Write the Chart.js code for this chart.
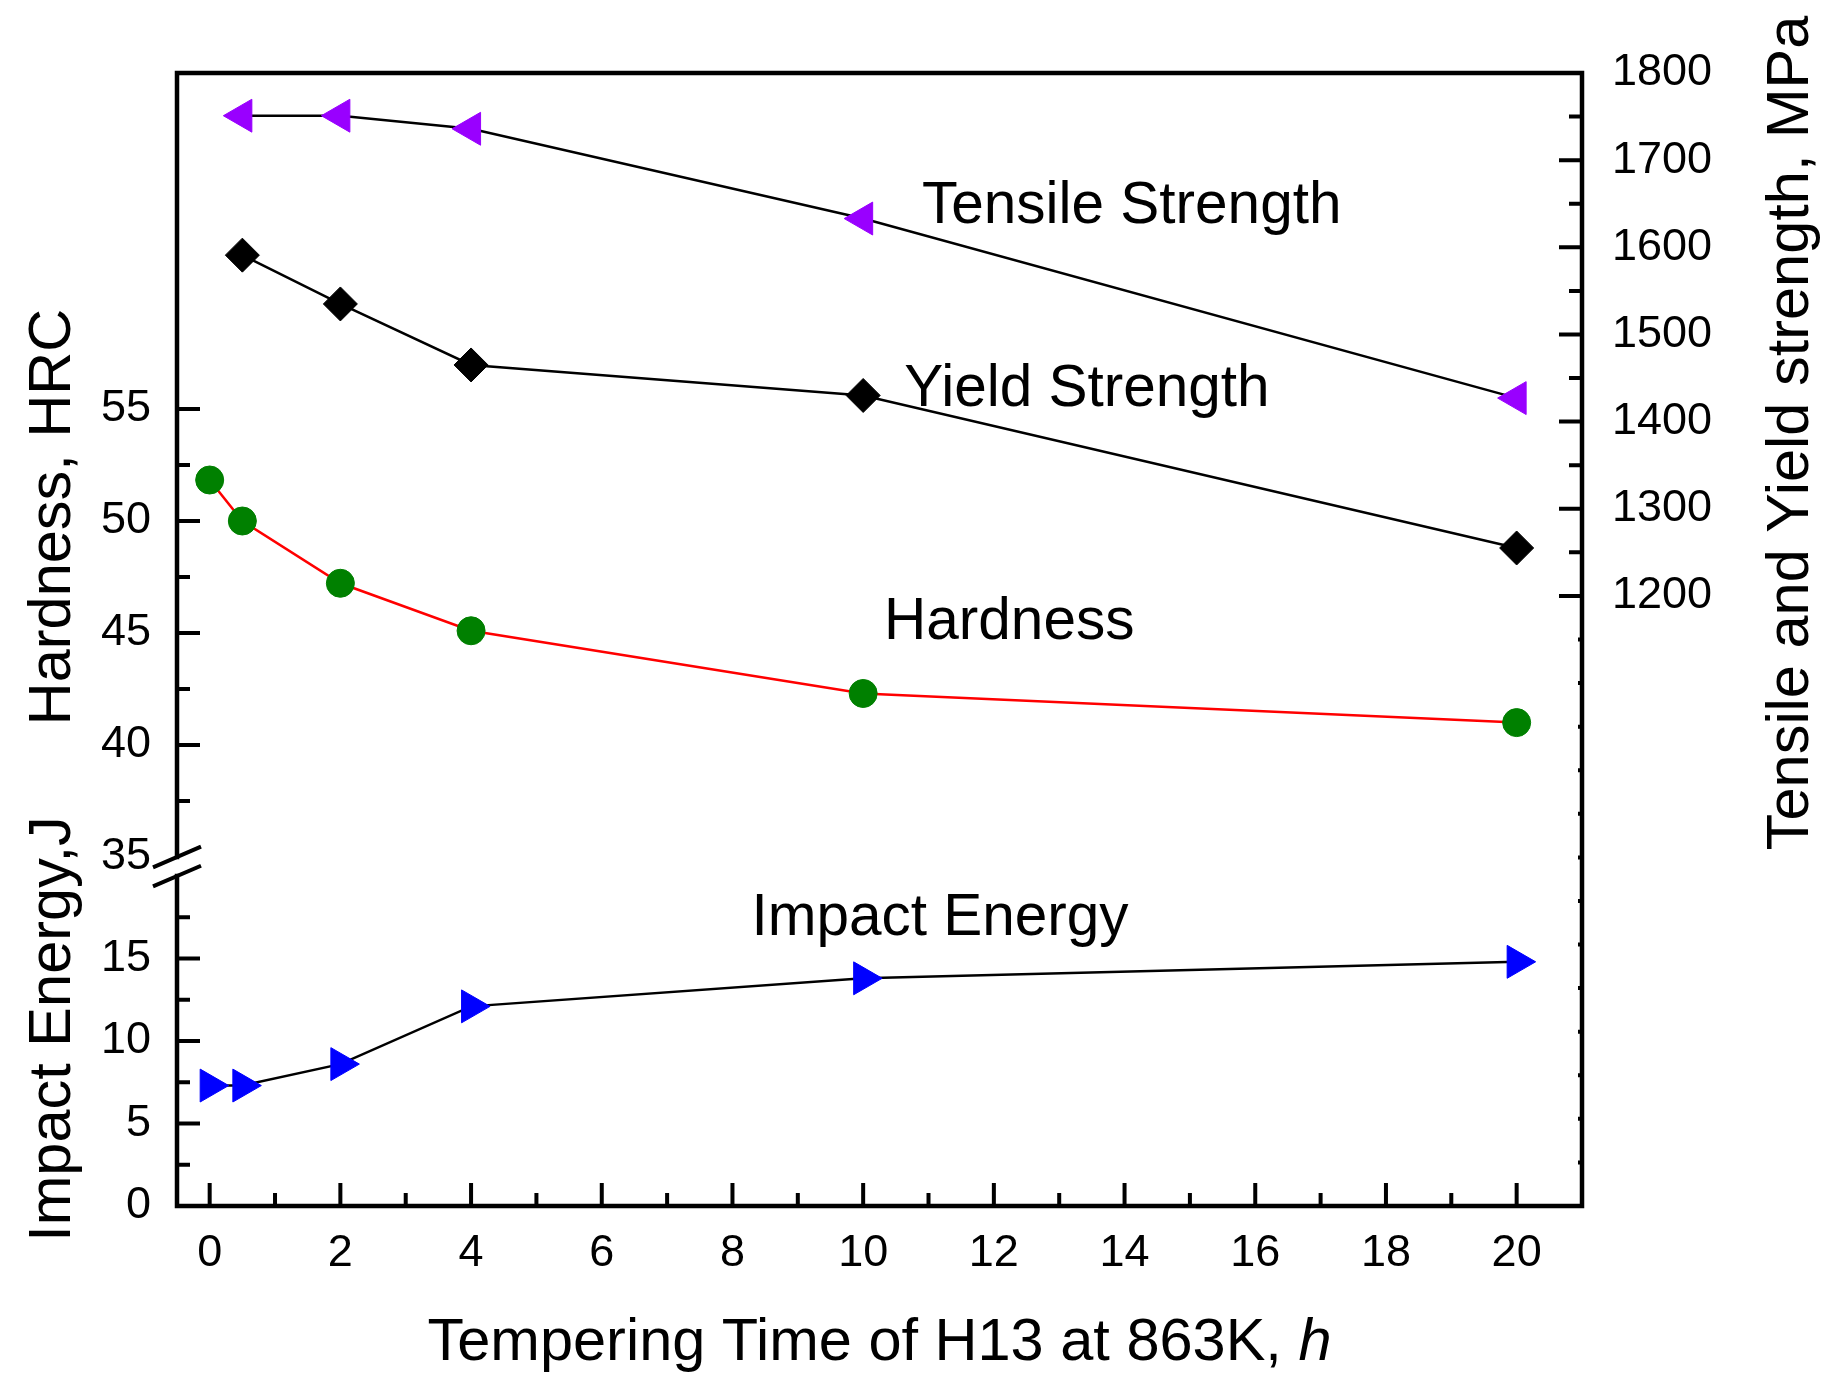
<!DOCTYPE html>
<html>
<head>
<meta charset="utf-8">
<title>Tempering of H13</title>
<script src="https://cdn.jsdelivr.net/npm/chart.js@4.4.1/dist/chart.umd.min.js"></script>
<style>
    html, body { margin: 0; padding: 0; background: #fff; }
    #wrap { width: 1833px; height: 1394px; }
</style>
</head>
<body>
<div id="wrap"><canvas id="graph"></canvas></div>
<script>
// values
const times = [0, 0.5, 2, 4, 10, 20];
const strengthTimes = [0.5, 2, 4, 10, 20];
const tensile = [1751, 1751, 1736, 1633, 1427];
const yieldStrength = [1591, 1535, 1465, 1430, 1255];
const hardness = [51.83, 50.0, 47.22, 45.1, 42.3, 41.0];
const impact = [7.3, 7.3, 8.6, 12.1, 13.8, 14.8];

// tick positions (labels only on the major ones)
const xTicks = [0, 1, 2, 3, 4, 5, 6, 7, 8, 9, 10, 11, 12, 13, 14, 15, 16, 17, 18, 19, 20];
const impactTicks = [0, 2.5, 5, 7.5, 10, 12.5, 15, 17.5];
const hardnessTicks = [35, 37.5, 40, 42.5, 45, 47.5, 50, 52.5, 55];
const mpaTicks = [550, 600, 650, 700, 750, 800, 850, 900, 950, 1000, 1050, 1100, 1150,
    1200, 1250, 1300, 1350, 1400, 1450, 1500, 1550, 1600, 1650, 1700, 1750, 1800];

// in-plot labels, anchored in data units (left edge, baseline)
const curveLabels = [
    {text: "Tensile Strength", x: 10.9, y: 1628, axis: "yMpa"},
    {text: "Yield Strength", x: 10.63, y: 1418, axis: "yMpa"},
    {text: "Hardness", x: 10.32, y: 44.75, axis: "yHard"},
    {text: "Impact Energy", x: 8.29, y: 16.4, axis: "yImp"}
];

const FONT = '"Liberation Sans", Arial, sans-serif';
const BIG = "59.5px " + FONT;
const NOTE = "58.5px " + FONT;
const toPoints = (xs, ys) => xs.map((x, i) => ({x: x, y: ys[i]}));

const frame = {
    id: "frame",
    beforeDraw(chart) {
        const ctx = chart.ctx;
        ctx.save();
        ctx.fillStyle = "#fff";
        ctx.fillRect(0, 0, chart.width, chart.height);
        ctx.restore();
    },
    afterDraw(chart) {
        const ctx = chart.ctx;
        const a = chart.chartArea;
        const s = chart.scales;
        const breakTop = s.yHard.getPixelForValue(35);
        const breakBottom = s.yImp.getPixelForValue(20);
        ctx.save();
        ctx.strokeStyle = "#000";
        ctx.lineCap = "square";

        // box, left axis split at the break
        ctx.lineWidth = 4.5;
        ctx.beginPath();
        ctx.moveTo(a.left, breakTop);
        ctx.lineTo(a.left, a.top);
        ctx.lineTo(a.right, a.top);
        ctx.lineTo(a.right, a.bottom);
        ctx.lineTo(a.left, a.bottom);
        ctx.lineTo(a.left, breakBottom);
        ctx.stroke();

        // inward ticks
        ctx.lineWidth = 4;
        ctx.lineCap = "butt";
        ctx.beginPath();
        s.x.ticks.forEach(t => {
            const px = s.x.getPixelForValue(t.value);
            const len = t.value % 2 === 0 ? 23 : 13;
            ctx.moveTo(px, a.bottom);
            ctx.lineTo(px, a.bottom - len);
        });
        s.yImp.ticks.forEach(t => {
            if (t.value === 0) return;
            const py = s.yImp.getPixelForValue(t.value);
            const len = t.value % 5 === 0 ? 23 : 13;
            ctx.moveTo(a.left, py);
            ctx.lineTo(a.left + len, py);
        });
        s.yHard.ticks.forEach(t => {
            if (t.value === 35) return;
            const py = s.yHard.getPixelForValue(t.value);
            const len = t.value % 5 === 0 ? 23 : 13;
            ctx.moveTo(a.left, py);
            ctx.lineTo(a.left + len, py);
        });
        s.yMpa.ticks.forEach(t => {
            const py = s.yMpa.getPixelForValue(t.value);
            let len = 4;
            if (t.value >= 1200) len = t.value % 100 === 0 ? 23 : 13;
            ctx.moveTo(a.right, py);
            ctx.lineTo(a.right - len, py);
        });
        ctx.stroke();

        // axis break slashes
        ctx.lineWidth = 4;
        ctx.beginPath();
        [breakTop, breakBottom].forEach(y => {
            ctx.moveTo(a.left - 24, y + 10.3);
            ctx.lineTo(a.left + 24, y - 10.3);
        });
        ctx.stroke();

        // curve labels
        ctx.fillStyle = "#000";
        ctx.font = NOTE;
        ctx.textAlign = "left";
        ctx.textBaseline = "alphabetic";
        curveLabels.forEach(l => {
            ctx.fillText(l.text, s.x.getPixelForValue(l.x), s[l.axis].getPixelForValue(l.y));
        });

        // x title with italic unit
        const main = "Tempering Time of H13 at 863K, ";
        ctx.font = BIG;
        const w1 = ctx.measureText(main).width;
        ctx.font = "italic " + BIG;
        const w2 = ctx.measureText("h").width;
        const tx = (a.left + a.right) / 2 - (w1 + w2) / 2;
        ctx.font = BIG;
        ctx.fillText(main, tx, 1360);
        ctx.font = "italic " + BIG;
        ctx.fillText("h", tx + w1, 1360);

        // rotated titles
        ctx.font = BIG;
        ctx.textAlign = "center";
        const vtitle = (text, x, y) => {
            ctx.save();
            ctx.translate(x, y);
            ctx.rotate(-Math.PI / 2);
            ctx.fillText(text, 0, 0);
            ctx.restore();
        };
        vtitle("Hardness, HRC", 70, 517);
        vtitle("Impact Energy,J", 70, 1029);
        vtitle("Tensile and Yield strength, MPa", 1808, 433);
        ctx.restore();
    }
};

const tickFont = {family: FONT, size: 45};

const ctx = document.getElementById("graph").getContext("2d");
new Chart(ctx, {
    type: "scatter",
    data: {
        datasets: [
            {
                label: "Tensile Strength",
                data: toPoints(strengthTimes, tensile),
                yAxisID: "yMpa",
                showLine: true,
                borderColor: "#000",
                borderWidth: 2.5,
                pointStyle: "triangle",
                rotation: -90,
                pointRadius: 19,
                pointBackgroundColor: "#9900ff",
                pointBorderColor: "#9900ff",
                pointBorderWidth: 1
            },
            {
                label: "Yield Strength",
                data: toPoints(strengthTimes, yieldStrength),
                yAxisID: "yMpa",
                showLine: true,
                borderColor: "#000",
                borderWidth: 2.5,
                pointStyle: "rectRot",
                pointRadius: 17,
                pointBackgroundColor: "#000",
                pointBorderColor: "#000",
                pointBorderWidth: 1
            },
            {
                label: "Hardness",
                data: toPoints(times, hardness),
                yAxisID: "yHard",
                showLine: true,
                borderColor: "#ff0000",
                borderWidth: 2.5,
                pointStyle: "circle",
                pointRadius: 14,
                pointBackgroundColor: "#008000",
                pointBorderColor: "#008000",
                pointBorderWidth: 1
            },
            {
                label: "Impact Energy",
                data: toPoints(times, impact),
                yAxisID: "yImp",
                showLine: true,
                borderColor: "#000",
                borderWidth: 2.5,
                pointStyle: "triangle",
                rotation: 90,
                pointRadius: 19,
                pointBackgroundColor: "#0000ff",
                pointBorderColor: "#0000ff",
                pointBorderWidth: 1
            }
        ]
    },
    options: {
        responsive: true,
        maintainAspectRatio: false,
        animation: false,
        events: [],
        clip: false,
        layout: {padding: {top: 73, left: 0, right: 0, bottom: 0}},
        plugins: {
            legend: {display: false},
            tooltip: {enabled: false}
        },
        scales: {
            x: {
                type: "linear",
                position: "bottom",
                min: -0.5,
                max: 21,
                grid: {display: false, drawTicks: false},
                border: {display: false},
                afterBuildTicks: scale => { scale.ticks = xTicks.map(v => ({value: v})); },
                afterFit: scale => { scale.height = 188; },
                ticks: {
                    autoSkip: false,
                    maxRotation: 0,
                    padding: 21,
                    color: "#000",
                    font: tickFont,
                    callback: v => (v % 2 === 0 ? String(v) : "")
                }
            },
            yImp: {
                type: "linear",
                position: "left",
                weight: 1,
                min: 0,
                max: 68.67,
                grid: {display: false, drawTicks: false},
                border: {display: false},
                afterBuildTicks: scale => { scale.ticks = impactTicks.map(v => ({value: v})); },
                afterFit: scale => { scale.width = 177; },
                ticks: {
                    autoSkip: false,
                    padding: 26,
                    color: "#000",
                    font: tickFont,
                    callback: v => (v % 5 === 0 ? String(v) : "")
                }
            },
            yHard: {
                // zero-width inner axis: mirrored so its labels are not clipped,
                // then pulled back to the outside of the frame
                type: "linear",
                position: "left",
                weight: 0,
                min: 19.42,
                max: 70,
                grid: {display: false, drawTicks: false},
                border: {display: false},
                afterBuildTicks: scale => { scale.ticks = hardnessTicks.map(v => ({value: v})); },
                afterFit: scale => { scale.width = 0; },
                ticks: {
                    autoSkip: false,
                    mirror: true,
                    padding: -76,
                    color: "#000",
                    font: tickFont,
                    callback: v => (v % 5 === 0 ? String(v) : "")
                }
            },
            yMpa: {
                type: "linear",
                position: "right",
                min: 500,
                max: 1800,
                grid: {display: false, drawTicks: false},
                border: {display: false},
                afterBuildTicks: scale => { scale.ticks = mpaTicks.map(v => ({value: v})); },
                afterFit: scale => { scale.width = 251; },
                ticks: {
                    autoSkip: false,
                    padding: 30,
                    color: "#000",
                    font: tickFont,
                    callback: v => (v >= 1200 && v % 100 === 0 ? String(v) : "")
                }
            }
        }
    },
    plugins: [frame]
});
</script>
</body>
</html>
